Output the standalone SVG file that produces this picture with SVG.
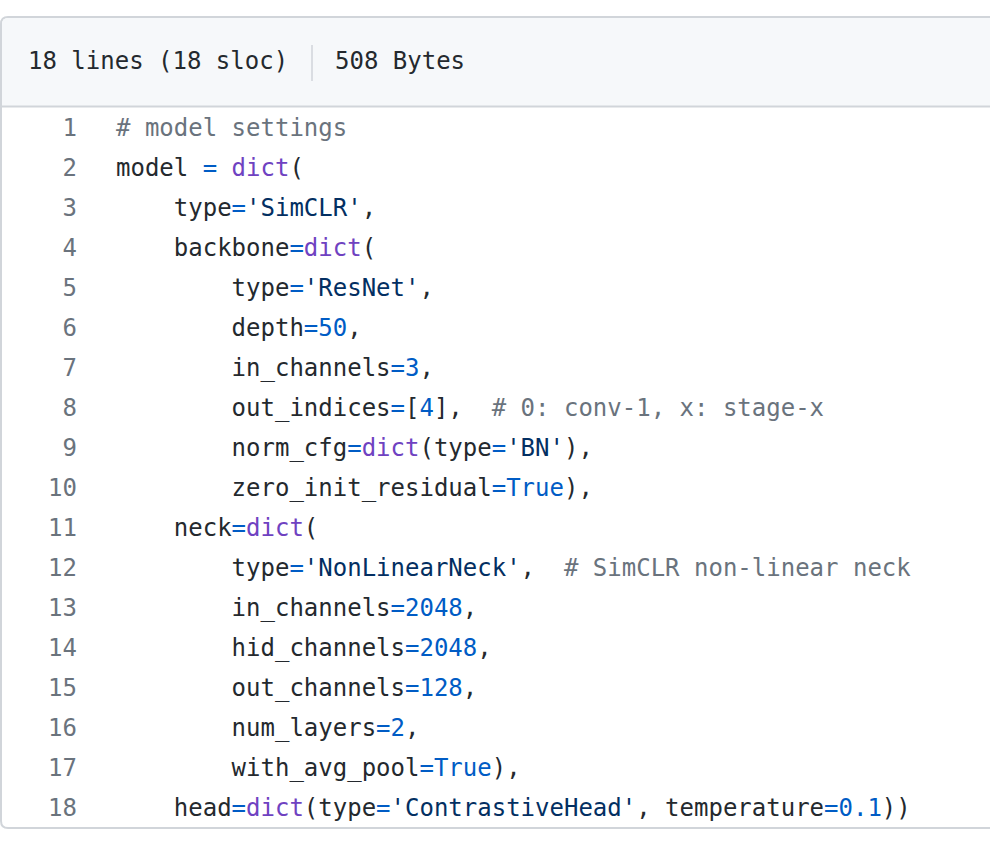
<svg xmlns="http://www.w3.org/2000/svg" width="990" height="842" viewBox="0 0 990 842">
<style>
text{font-family:"DejaVu Sans Mono","Liberation Mono",monospace;font-size:24px;fill:#24292e;white-space:pre}
.n{fill:#6a737d;text-anchor:end}
.c{fill:#6a737d}.k{fill:#6f42c1}.s{fill:#032f62}.v{fill:#005cc5}.o{fill:#005cc5}
</style>
<rect x="0" y="0" width="990" height="842" fill="#fff"/>
<g id="box">
<path d="M1000 17 H8 Q1 17 1 24 V821 Q1 828 8 828 H1000" fill="#fff" stroke="#d1d5da" stroke-width="2"/>
<path d="M1000 18 H8 Q2 18 2 24 V106 H1000 Z" fill="#f6f8fa"/>
<line x1="1" y1="106.5" x2="1000" y2="106.5" stroke="#d1d5da" stroke-width="2"/>
<line x1="312" y1="45" x2="312" y2="81" stroke="#d1d5da" stroke-width="1.5"/>
<text x="28" y="69">18 lines (18 sloc)</text>
<text x="335" y="69">508 Bytes</text>
</g>
<g id="code" xml:space="preserve">
<text class="n" x="77" y="136">1</text><text x="116" y="136" class="c"># model settings</text>
<text class="n" x="77" y="176">2</text><text x="116" y="176">model <tspan class="o">=</tspan> <tspan class="k">dict</tspan>(</text>
<text class="n" x="77" y="216">3</text><text x="116" y="216">    type<tspan class="o">=</tspan><tspan class="s">'SimCLR'</tspan>,</text>
<text class="n" x="77" y="256">4</text><text x="116" y="256">    backbone<tspan class="o">=</tspan><tspan class="k">dict</tspan>(</text>
<text class="n" x="77" y="296">5</text><text x="116" y="296">        type<tspan class="o">=</tspan><tspan class="s">'ResNet'</tspan>,</text>
<text class="n" x="77" y="336">6</text><text x="116" y="336">        depth<tspan class="o">=</tspan><tspan class="v">50</tspan>,</text>
<text class="n" x="77" y="376">7</text><text x="116" y="376">        in_channels<tspan class="o">=</tspan><tspan class="v">3</tspan>,</text>
<text class="n" x="77" y="416">8</text><text x="116" y="416">        out_indices<tspan class="o">=</tspan>[<tspan class="v">4</tspan>],  <tspan class="c"># 0: conv-1, x: stage-x</tspan></text>
<text class="n" x="77" y="456">9</text><text x="116" y="456">        norm_cfg<tspan class="o">=</tspan><tspan class="k">dict</tspan>(type<tspan class="o">=</tspan><tspan class="s">'BN'</tspan>),</text>
<text class="n" x="77" y="496">10</text><text x="116" y="496">        zero_init_residual<tspan class="o">=</tspan><tspan class="v">True</tspan>),</text>
<text class="n" x="77" y="536">11</text><text x="116" y="536">    neck<tspan class="o">=</tspan><tspan class="k">dict</tspan>(</text>
<text class="n" x="77" y="576">12</text><text x="116" y="576">        type<tspan class="o">=</tspan><tspan class="s">'NonLinearNeck'</tspan>,  <tspan class="c"># SimCLR non-linear neck</tspan></text>
<text class="n" x="77" y="616">13</text><text x="116" y="616">        in_channels<tspan class="o">=</tspan><tspan class="v">2048</tspan>,</text>
<text class="n" x="77" y="656">14</text><text x="116" y="656">        hid_channels<tspan class="o">=</tspan><tspan class="v">2048</tspan>,</text>
<text class="n" x="77" y="696">15</text><text x="116" y="696">        out_channels<tspan class="o">=</tspan><tspan class="v">128</tspan>,</text>
<text class="n" x="77" y="736">16</text><text x="116" y="736">        num_layers<tspan class="o">=</tspan><tspan class="v">2</tspan>,</text>
<text class="n" x="77" y="776">17</text><text x="116" y="776">        with_avg_pool<tspan class="o">=</tspan><tspan class="v">True</tspan>),</text>
<text class="n" x="77" y="816">18</text><text x="116" y="816">    head<tspan class="o">=</tspan><tspan class="k">dict</tspan>(type<tspan class="o">=</tspan><tspan class="s">'ContrastiveHead'</tspan>, temperature<tspan class="o">=</tspan><tspan class="v">0.1</tspan>))</text>
</g>
</svg>
